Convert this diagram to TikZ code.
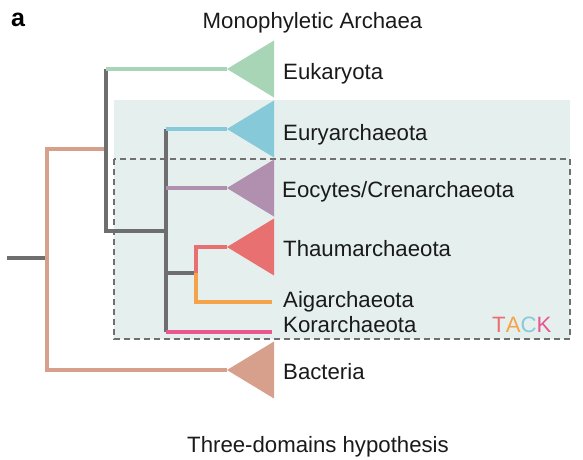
\documentclass[tikz,border=0pt]{standalone}
\usepackage{fontspec}
\setmainfont{Liberation Sans}
\begin{document}
\begin{tikzpicture}[x=1pt,y=-1pt,
  br/.style={line width=3.4pt,line cap=butt,line join=miter},
  lbl/.style={anchor=base west,inner sep=0pt,text=txt,font=\fontsize{22.2}{24}\selectfont},
  ttl/.style={anchor=base,inner sep=0pt,text=txt,font=\fontsize{22.2}{24}\selectfont}]
\definecolor{txt}{HTML}{1A1A1A}
\definecolor{gr}{HTML}{6E6E6E}
\definecolor{cEuk}{HTML}{A8D5B6}
\definecolor{cEury}{HTML}{86C9D8}
\definecolor{cEoc}{HTML}{B08FAF}
\definecolor{cTha}{HTML}{E97070}
\definecolor{cAig}{HTML}{F4A34A}
\definecolor{cKor}{HTML}{E8578E}
\definecolor{cBac}{HTML}{D6A08D}
\definecolor{panelcol}{HTML}{E5EFEE}
\definecolor{dashgray}{HTML}{707070}
\useasboundingbox (0,0) rectangle (583,459);
% background panels
\fill[panelcol] (114,100) rectangle (570,339);
\draw[dashgray,line width=1.3pt,dash pattern=on 6pt off 4pt] (114,159) rectangle (570,339);
% coordinates
\coordinate (root) at (7,258);
\coordinate (r1) at (47,258);
\coordinate (s1) at (47,149);
\coordinate (s2) at (47,370);
\coordinate (g1) at (106,149);
\coordinate (g1t) at (106,69);
\coordinate (g1b) at (106,231);
\coordinate (g2) at (166,231);
\coordinate (g2t) at (166,129);
\coordinate (g2e) at (166,188);
\coordinate (g2m) at (166,273);
\coordinate (g2b) at (166,332);
\coordinate (g3) at (196,273);
\coordinate (g3t) at (196,247);
\coordinate (g3b) at (196,302);
\coordinate (tEuk) at (227,69);
\coordinate (tEury) at (227,129);
\coordinate (tEoc) at (227,188);
\coordinate (tTha) at (227,247);
\coordinate (eAig) at (272,302);
\coordinate (eKor) at (272,332);
\coordinate (tBac) at (227,370);
% branches
\draw[br,gr] (root) -- (r1);
\draw[br,cBac] (g1) -- (s1) -- (s2) -- (tBac);
\draw[br,gr] (g1t) -- (g1b) -- (g2);
\draw[br,cEuk] (g1t) -- (tEuk);
\draw[br,gr] (g2t) -- (g2b);
\draw[br,cEury] (g2t) -- (tEury);
\draw[br,cEoc] (g2e) -- (tEoc);
\draw[br,gr] (g2m) -- (g3);
\draw[br,cTha] (g3) -- (g3t) -- (tTha);
\draw[br,cAig] (g3) -- (g3b) -- (eAig);
\draw[br,cKor] (g2b) -- (eKor);
% triangles
\fill[cEuk] (tEuk) -- (274,40.5) -- (274,97.5) -- cycle;
\fill[cEury] (tEury) -- (274,100.5) -- (274,157.5) -- cycle;
\fill[cEoc] (tEoc) -- (274,159.5) -- (274,216.5) -- cycle;
\fill[cTha] (tTha) -- (274,218.5) -- (274,275.5) -- cycle;
\fill[cBac] (tBac) -- (274,341.5) -- (274,398.5) -- cycle;
% labels
\node[anchor=base west,inner sep=0pt,font=\fontsize{25}{28}\selectfont\bfseries] (pa) at (11,26.5) {a};
\node[ttl] (top) at (312.5,28) {Monophyletic Archaea};
\node[ttl] (bot) at (318,452) {Three-domains hypothesis};
\node[lbl] (lEuk) at (283,79) {Eukaryota};
\node[lbl] (lEury) at (283,140) {Euryarchaeota};
\node[lbl] (lEoc) at (282,197) {Eocytes/Crenarchaeota};
\node[lbl] (lTha) at (283,256.5) {Thaumarchaeota};
\node[lbl] (lAig) at (283,307) {Aigarchaeota};
\node[lbl] (lKor) at (283,332) {Korarchaeota};
\node[lbl] (lBac) at (283,379) {Bacteria};
\node[lbl] (tack) at (492,332) {\textcolor{cTha}{T}\textcolor{cAig}{A}\textcolor{cEury}{C}\textcolor{cKor}{K}};
\end{tikzpicture}
\end{document}
